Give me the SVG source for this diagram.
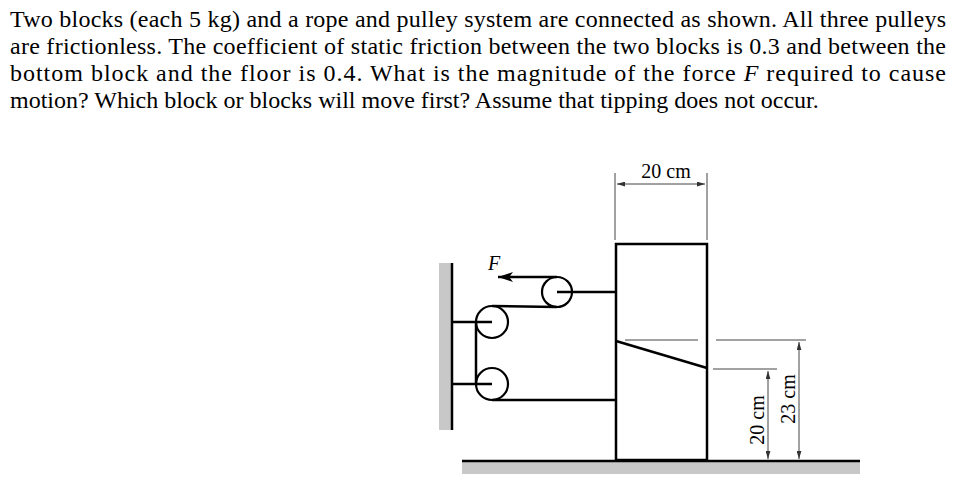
<svg xmlns="http://www.w3.org/2000/svg" width="957" height="500" viewBox="0 0 957 500">
<style>
.t{font-family:"Liberation Serif","Times New Roman",serif;font-size:24px;fill:#000}
.d{font-family:"Liberation Serif",serif;font-size:20px;fill:#000}
.k{stroke:#000;stroke-width:2.5;fill:none}
.th{stroke:#444;stroke-width:1;fill:none}
.p{stroke:#000;stroke-width:2.2;fill:none}
</style>
<defs>
<marker id="a" viewBox="0 0 10 6" refX="10" refY="3" markerWidth="8" markerHeight="5" orient="auto-start-reverse" markerUnits="userSpaceOnUse"><path d="M0,0L10,3L0,6z" fill="#333"/></marker>
<marker id="f" viewBox="0 0 12 8" refX="12" refY="4" markerWidth="16" markerHeight="10" orient="auto" markerUnits="userSpaceOnUse"><path d="M0,0L12,4L0,8L3,4z" fill="#000"/></marker>
</defs>
<g id="text">
<text class="t" x="10" y="27" textLength="936" lengthAdjust="spacing">Two blocks (each 5 kg) and a rope and pulley system are connected as shown.  All three pulleys</text>
<text class="t" x="10" y="54" textLength="936" lengthAdjust="spacing">are frictionless.  The coefficient of static friction between the two blocks is 0.3 and between the</text>
<text class="t" x="10" y="81" textLength="936" lengthAdjust="spacing">bottom block and the floor is 0.4.  What is the magnitude of the force <tspan font-style="italic">F</tspan> required to cause</text>
<text class="t" x="10" y="108">motion?  Which block or blocks will move first?  Assume that tipping does not occur.</text>
</g>
<g id="floor"><rect x="462" y="461" width="398" height="13" fill="#c8c8c8"/><line x1="462" y1="461" x2="860" y2="461" stroke="#000" stroke-width="2.5"/></g>
<g id="wall"><rect x="439" y="263" width="12" height="167" fill="#c8c8c8"/><line x1="452" y1="263" x2="452" y2="430" stroke="#000" stroke-width="2.5"/></g>
<g id="blocks">
<rect x="616" y="244" width="91" height="216" class="k" stroke-width="3"/>
<line x1="616" y1="341" x2="707" y2="368" class="k"/>
</g>
<g id="connectors">
<line x1="452" y1="322" x2="492" y2="322" class="k" stroke-width="2"/>
<line x1="452" y1="384" x2="492" y2="384" class="k" stroke-width="2"/>
<line x1="557" y1="292" x2="616" y2="292" class="k" stroke-width="2"/>
<line x1="557" y1="307" x2="492" y2="306" class="k"/>
<line x1="476" y1="322" x2="476" y2="384" class="k"/>
<line x1="492" y1="400" x2="616" y2="400" class="k"/>
<line x1="557" y1="277" x2="498" y2="277" class="k" marker-end="url(#f)"/>
</g>
<g id="pulleys">
<circle cx="557" cy="292" r="15" class="p"/>
<circle cx="492" cy="322" r="16" class="p"/>
<circle cx="492" cy="384" r="16" class="p"/>
</g>
<text x="488" y="270" font-family="Liberation Serif,serif" font-style="italic" font-size="20">F</text>
<g id="dims">
<line x1="615" y1="173" x2="615" y2="240" class="th"/>
<line x1="707" y1="173" x2="707" y2="240" class="th"/>
<line x1="617" y1="184" x2="705" y2="184" class="th" marker-start="url(#a)" marker-end="url(#a)"/>
<text class="d" x="666" y="178" text-anchor="middle">20 cm</text>
<line x1="625" y1="340" x2="698" y2="340" class="th"/>
<line x1="716" y1="340" x2="806" y2="340" class="th"/>
<line x1="713" y1="369" x2="777" y2="369" class="th"/>
<line x1="768" y1="371" x2="768" y2="459" class="th" marker-start="url(#a)" marker-end="url(#a)"/>
<line x1="799" y1="342" x2="799" y2="459" class="th" marker-start="url(#a)" marker-end="url(#a)"/>
<text class="d" transform="translate(764,420) rotate(-90)" text-anchor="middle">20 cm</text>
<text class="d" transform="translate(795,399) rotate(-90)" text-anchor="middle">23 cm</text>
</g>
</svg>
